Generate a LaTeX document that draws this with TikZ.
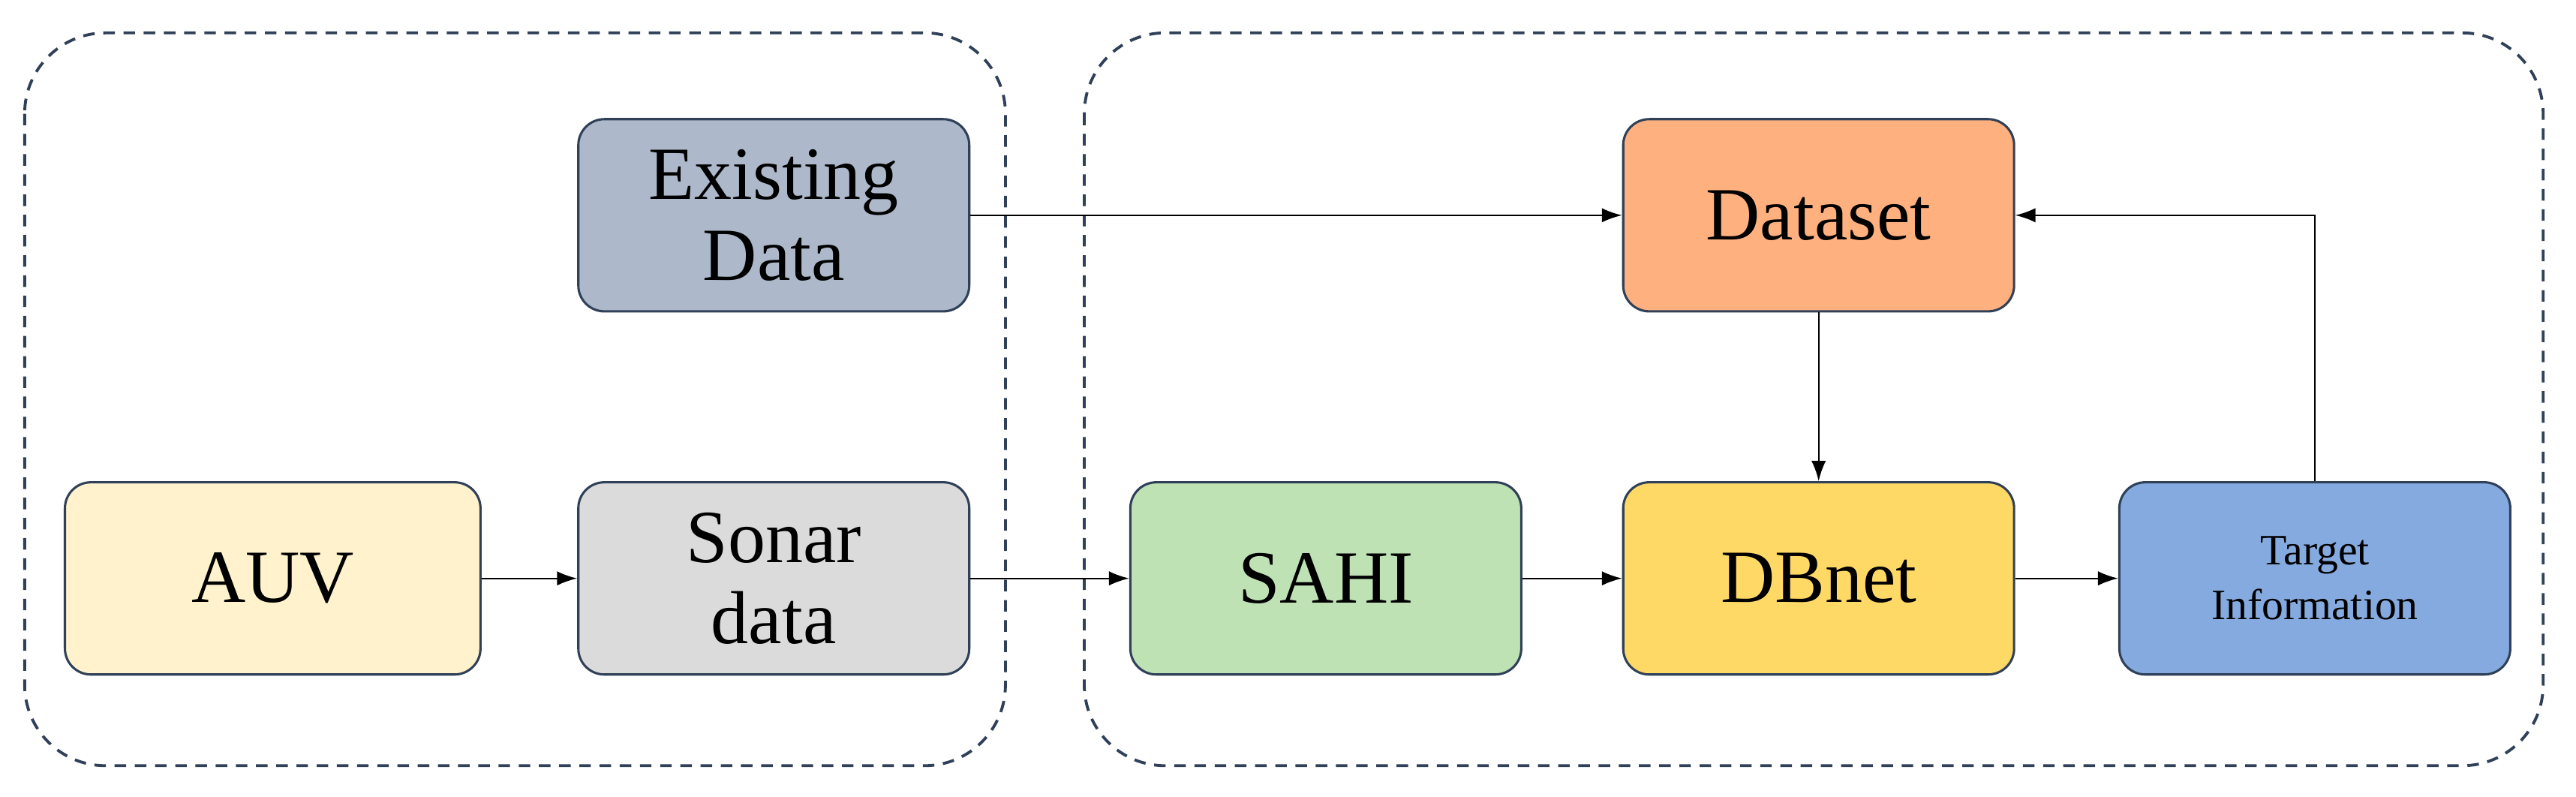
\documentclass[tikz,border=0pt]{standalone}
\usepackage{fontspec}
\setmainfont{Liberation Serif}
\definecolor{edgeblue}{HTML}{2F4058}
\definecolor{existfill}{HTML}{ADB9CA}
\definecolor{auvfill}{HTML}{FFF2CC}
\definecolor{sonarfill}{HTML}{DBDBDB}
\definecolor{sahifill}{HTML}{BFE2B5}
\definecolor{dbnetfill}{HTML}{FFD966}
\definecolor{targetfill}{HTML}{85AADF}
\definecolor{datafill}{HTML}{FFB07F}
\tikzset{
  block/.style = {draw=edgeblue, line width=0.8pt, rounded corners=9pt,
    minimum width=4.76cm, minimum height=2.34cm, align=center,
    font=\fontsize{26}{28}\selectfont},
  region/.style = {draw=edgeblue, line width=1pt, dashed, dash pattern=on 4pt off 3pt,
    rounded corners=28pt},
  flow/.style = {-{Latex[length=7pt, width=5pt]}, line width=0.6pt}
}
\usetikzlibrary{arrows.meta}
\begin{document}
\begin{tikzpicture}[x=0.02cm, y=-0.02cm]
  \useasboundingbox (0, 0) rectangle (1568, 485);

  \draw[region] (15, 20) rectangle (612, 466);
  \draw[region] (660, 20) rectangle (1548, 466);

  \node[block, fill=existfill] (Exist) at (471, 131) {Existing\\Data};
  \node[block, fill=auvfill, minimum width=5.06cm] (AUV) at (166, 352) {AUV};
  \node[block, fill=sonarfill] (Sonar) at (471, 352) {Sonar\\data};
  \node[block, fill=sahifill] (SAHI) at (807, 352) {SAHI};
  \node[block, fill=dbnetfill] (DBnet) at (1107, 352) {DBnet};
  \node[block, fill=targetfill, font=\fontsize{15}{19}\selectfont] (Target) at (1409, 352) {Target\\Information};
  \node[block, fill=datafill] (Dataset) at (1107, 131) {Dataset};

  \draw[flow] (Exist) -- (Dataset);
  \draw[flow] (AUV) -- (Sonar);
  \draw[flow] (Sonar) -- (SAHI);
  \draw[flow] (SAHI) -- (DBnet);
  \draw[flow] (DBnet) -- (Target);
  \draw[flow] (Dataset) -- (DBnet);
  \draw[flow] (Target.north) |- (Dataset.east);
\end{tikzpicture}
\end{document}
